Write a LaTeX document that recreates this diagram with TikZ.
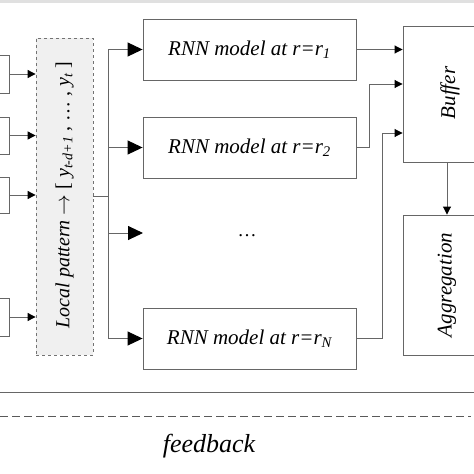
\documentclass[tikz,border=0pt]{standalone}
\usepackage{fontspec}
\setmainfont{Liberation Serif}
\usetikzlibrary{arrows.meta,calc}
\begin{document}
\begin{tikzpicture}[x=1pt,y=-1pt,
  line/.style={draw=black!60,line width=0.9pt},
  box/.style={line,rectangle,inner sep=0pt},
  small/.style={line,-{Triangle[length=8pt,width=8pt,fill=black,color=black]}},
  big/.style={line,-{Triangle[length=15pt,width=14pt,fill=black,color=black]}},
  lbl/.style={font=\fontsize{21}{24}\selectfont\itshape}
]
\useasboundingbox (0,0) rectangle (474,474);
\fill[black!12] (0,0) rectangle (474,2.5);
% input boxes
\node[box,minimum width=19pt,minimum height=38pt] (in1) at (0,74) {};
\node[box,minimum width=19pt,minimum height=37pt] (in2) at (0,135.5) {};
\node[box,minimum width=19pt,minimum height=36pt] (in3) at (0,195) {};
\node[box,minimum width=19pt,minimum height=38pt] (in4) at (0,317) {};
% local pattern box
\node[draw=black!55,dashed,fill=black!6,line width=0.8pt,minimum width=57pt,minimum height=317pt,inner sep=0pt] (lp) at (64.5,196.5) {};
\node[rotate=90,font=\fontsize{20}{22}\selectfont] (lptxt) at (64.5,195) {\itshape Local pattern \upshape$\rightarrow$ [ \itshape y\textsubscript{t-d+1}\upshape\ , … , \itshape y\textsubscript{t}\upshape\ ]};
\foreach \i in {1,...,4} \draw[small] (in\i.east) -- (in\i.east -| lp.west);
% RNN boxes
\node[box,minimum width=213pt,minimum height=61pt,lbl] (r1) at (249.5,49.5) {RNN model at r=r\textsubscript{1}};
\node[box,minimum width=213pt,minimum height=61pt,lbl] (r2) at (249.5,147.5) {RNN model at r=r\textsubscript{2}};
\node[box,minimum width=213pt,minimum height=61pt,lbl] (rN) at (249.5,338.5) {RNN model at r=r\textsubscript{N}};
\coordinate (r3) at (143,233);
\node[font=\fontsize{19}{22}\selectfont] (dots) at (247,236) {…};
\coordinate (split) at (108,196.5);
\draw[line] (lp.east) -- (split);
\draw[line] (r1.west -| split) -- (rN.west -| split);
\draw[big] (r1.west -| split) -- (r1.west);
\draw[big] (r2.west -| split) -- (r2.west);
\draw[big] (r3 -| split) -- (r3);
\draw[big] (rN.west -| split) -- (rN.west);
% buffer and aggregation
\node[box,minimum width=94pt,minimum height=136pt] (buf) at (450,94) {};
\node[lbl,rotate=90] (buftxt) at (450,93) {Buffer};
\node[box,minimum width=94pt,minimum height=140pt] (agg) at (450,285) {};
\node[lbl,rotate=90] (aggtxt) at (447,285) {Aggregation};
\draw[small] (r1.east) -- (r1.east -| buf.west);
\draw[small] (r2.east) -- ++(13,0) |- (buf.west |- 0,84);
\draw[small] (rN.east) -- ++(26,0) |- (buf.west |- 0,133);
\draw[small] ([xshift=-3pt]buf.south) -- ([xshift=-3pt]agg.north);
% bottom lines
\coordinate (h1a) at (0,392); \coordinate (h1b) at (474,392);
\draw[line] (h1a) -- (h1b);
\coordinate (h2a) at (0,416); \coordinate (h2b) at (471,416);
\draw[draw=black!65,line width=0.9pt,dash pattern=on 8pt off 4pt] (h2a) -- (h2b);
\node[font=\fontsize{26}{29}\selectfont\itshape] (fb) at (209,446) {feedback};
\end{tikzpicture}
\end{document}
